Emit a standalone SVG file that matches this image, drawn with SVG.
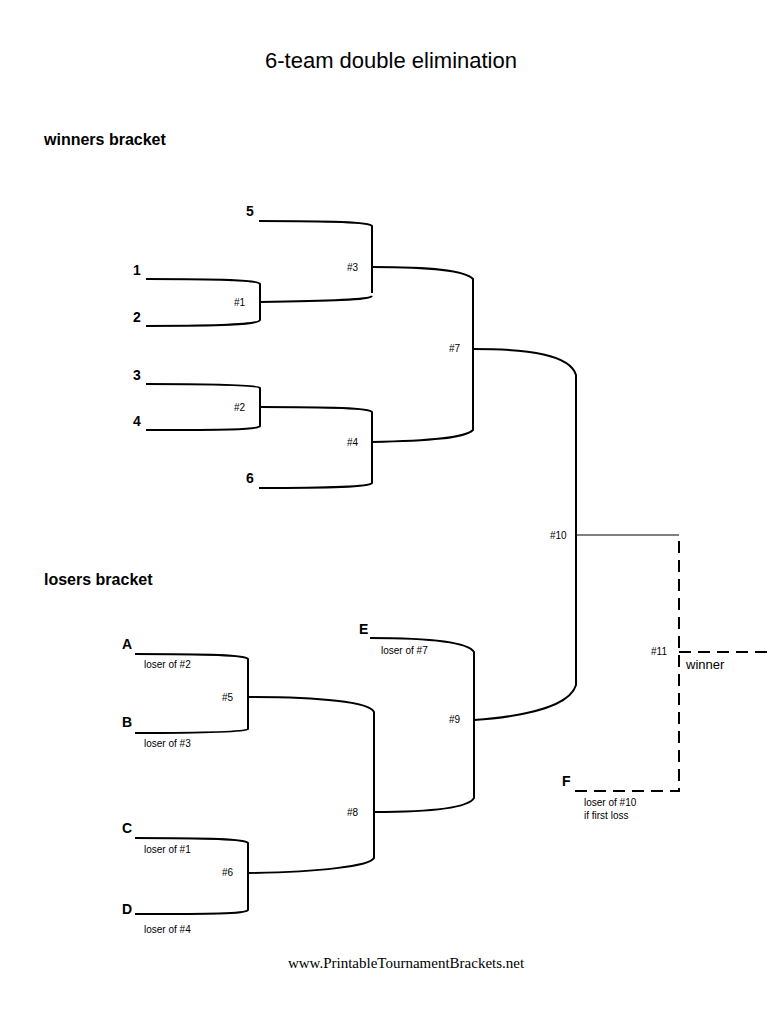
<svg xmlns="http://www.w3.org/2000/svg" width="768" height="1024" viewBox="0 0 768 1024">
<style>
.l{fill:none;stroke:#000;stroke-width:2}
.t{fill:none;stroke:#000;stroke-width:1.2}
.d{fill:none;stroke:#000;stroke-width:2;stroke-dasharray:12,7}
.team{font-family:"Liberation Sans",Arial,sans-serif;font-size:14px;font-weight:bold}
.g{font-family:"Liberation Sans",Arial,sans-serif;font-size:10px}
.s{font-family:"Liberation Sans",Arial,sans-serif;font-size:10px}
.h{font-family:"Liberation Sans",Arial,sans-serif;font-size:16px;font-weight:bold}
</style>
<rect width="768" height="1024" fill="#fff"/>
<text x="391" y="68" text-anchor="middle" font-family="Liberation Sans,Arial,sans-serif" font-size="22">6-team double elimination</text>
<text class="h" x="44" y="145">winners bracket</text>
<text class="h" x="44" y="585">losers bracket</text>
<g id="connectors">
<path class="l" d="M146,279 C220,279 258,280 260,284 L260,320 C258,325 220,326 146,326"/>
<path class="l" d="M260,302 C330,301 370,300 372,296"/>
<path class="l" d="M259,221 C330,221 370,222 372,226 L372,293"/>
<path class="l" d="M372,267 C430,267 465,270 473,279 L473,430 C465,438 430,441 372,442"/>
<path class="l" d="M146,384 C220,384 258,385 260,388 L260,426 C258,430 220,430 146,430"/>
<path class="l" d="M260,407 C330,407 370,408 372,412 L372,483 C370,487 330,488 259,488"/>
<path class="l" d="M473,349 C530,349 570,355 576,375 L576,685 C570,705 530,716 474,720"/>
<path class="t" d="M576,535 L679,535"/>
<path class="d" d="M679,541 L679,791 L575,791"/>
<path class="d" d="M679,652 L768,652"/>
<path class="l" d="M135,654 C210,654 246,655 248,659 L248,729 C246,732 210,733 135,733"/>
<path class="l" d="M248,697 C320,697 370,702 374,712 L374,858 C370,866 320,872 248,873"/>
<path class="l" d="M135,838 C210,838 246,839 248,843 L248,910 C246,914 210,914 135,914"/>
<path class="l" d="M370,638 C430,638 468,642 474,652 L474,798 C468,808 430,812 374,812"/>
</g>
<g id="teams">
<text class="team" x="133" y="275">1</text>
<text class="team" x="133" y="322">2</text>
<text class="team" x="133" y="380">3</text>
<text class="team" x="133" y="426">4</text>
<text class="team" x="246" y="216">5</text>
<text class="team" x="246" y="483">6</text>
<text class="team" x="122" y="649">A</text>
<text class="team" x="122" y="727">B</text>
<text class="team" x="122" y="833">C</text>
<text class="team" x="122" y="914">D</text>
<text class="team" x="359" y="634">E</text>
<text class="team" x="562" y="786">F</text>
</g>
<g id="games">
<text class="g" x="234" y="306">#1</text>
<text class="g" x="234" y="411">#2</text>
<text class="g" x="347" y="271">#3</text>
<text class="g" x="347" y="446">#4</text>
<text class="g" x="222" y="701">#5</text>
<text class="g" x="222" y="876">#6</text>
<text class="g" x="449" y="352">#7</text>
<text class="g" x="347" y="816">#8</text>
<text class="g" x="449" y="723">#9</text>
<text class="g" x="550" y="539">#10</text>
<text class="g" x="651" y="655">#11</text>
</g>
<g id="notes">
<text class="s" x="144" y="668">loser of #2</text>
<text class="s" x="144" y="747">loser of #3</text>
<text class="s" x="144" y="853">loser of #1</text>
<text class="s" x="144" y="933">loser of #4</text>
<text class="s" x="381" y="654">loser of #7</text>
<text class="s" x="584" y="806">loser of #10</text>
<text class="s" x="584" y="819">if first loss</text>
<text x="686" y="669" font-family="Liberation Sans,Arial,sans-serif" font-size="13">winner</text>
</g>
<text x="406" y="968" text-anchor="middle" font-family="Liberation Serif,Times New Roman,serif" font-size="15">www.PrintableTournamentBrackets.net</text>
</svg>
